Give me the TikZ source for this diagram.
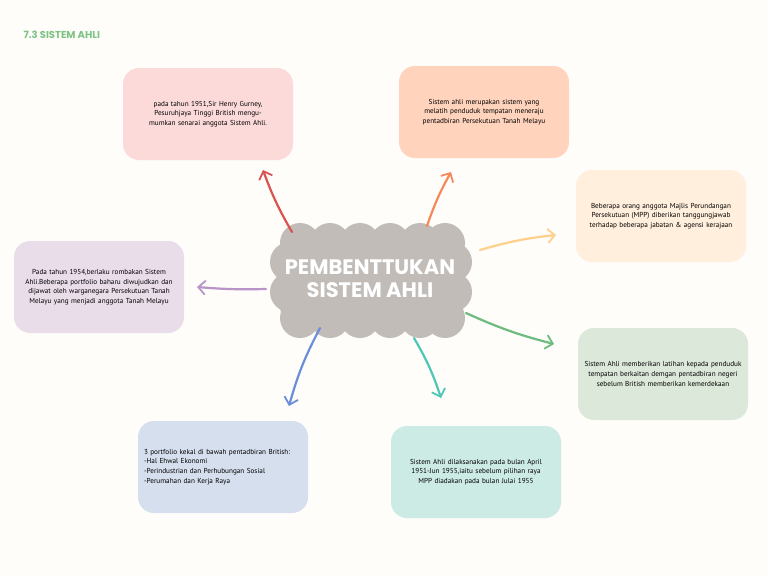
\documentclass[tikz,border=0pt]{standalone}
\usepackage{fontspec}
\setmainfont{PT Sans}
\newfontfamily\headfont{Poppins}
\usetikzlibrary{arrows.meta}
\definecolor{bg}{HTML}{FEFDFA}
\definecolor{cl}{HTML}{C1BCB8}
\begin{document}
\begin{tikzpicture}[x=1pt,y=-1pt,
  box/.style={rounded corners=16pt,minimum width=170pt,minimum height=92pt,text width=158pt,align=center,font=\fontsize{7.2}{9.6}\selectfont,inner sep=4pt},
  arr/.style={line width=2.2pt,line cap=round,-{Straight Barb[length=7pt,width=14pt,line width=1.8pt]}}]
\fill[bg] (0,0) rectangle (768,576);
\node[font=\headfont\bfseries\fontsize{10}{12}\selectfont,text=green!50!gray!80!teal,anchor=west,text={rgb,255:red,125;green,195;blue,131}] (title) at (20,35) {7.3 SISTEM AHLI};
\node[box,fill={rgb,255:red,253;green,218;blue,218}] (b1) at (208,114) {pada tahun 1951,Sir Henry Gurney, Pesuruhjaya Tinggi British mengumumkan senarai anggota Sistem Ahli.};
\node[box,fill={rgb,255:red,255;green,211;blue,188}] (b2) at (484,112) {Sistem ahli merupakan sistem yang melatih penduduk tempatan meneraju pentadbiran Persekutuan Tanah Melayu};
\node[box,fill={rgb,255:red,255;green,239;blue,220}] (b3) at (661,216) {Beberapa orang anggota Majlis Perundangan Persekutuan (MPP) diberikan tanggungjawab terhadap beberapa jabatan \& agensi kerajaan};
\node[box,fill={rgb,255:red,234;green,221;blue,234}] (b4) at (99,287) {Pada tahun 1954,berlaku rombakan Sistem Ahli.Beberapa portfolio baharu diwujudkan dan dijawat oleh warganegara Persekutuan Tanah Melayu yang menjadi anggota Tanah Melayu};
\node[box,fill={rgb,255:red,220;green,232;blue,217}] (b5) at (663,374) {Sistem Ahli memberikan latihan kepada penduduk tempatan berkaitan demgan pentadbiran negeri sebelum British memberikan kemerdekaan};
\node[box,fill={rgb,255:red,213;green,223;blue,238},align=left] (b6) at (223,467) {3 portfolio kekal di bawah pentadbiran British:\\-Hal Ehwal Ekonomi\\-Perindustrian dan Perhubungan Sosial\\-Perumahan dan Kerja Raya};
\node[box,fill={rgb,255:red,205;green,235;blue,229}] (b7) at (476,472) {Sistem Ahli dilaksanakan pada bulan April 1951-Jun 1955,iaitu sebelum pilihan raya MPP diadakan pada bulan Julai 1955};
% cloud
\begin{scope}
\fill[cl,rounded corners=20pt] (280,236) rectangle (462,326);
\foreach \x in {300,330,360,390,420,445} {\fill[cl] (\x,243) circle (20); \fill[cl] (\x,318) circle (20);}
\foreach \y in {262,292} {\fill[cl] (290,\y) circle (20); \fill[cl] (452,\y) circle (20);}
\end{scope}
\node[font=\headfont\bfseries\fontsize{21}{23}\selectfont,text=white,align=center] (c) at (370,279) {PEMBENTTUKAN\\SISTEM AHLI};
\coordinate (s1) at (292,232); \coordinate (e1) at (263,170);
\coordinate (s2) at (427,226); \coordinate (e2) at (451,172);
\coordinate (s3) at (480,250); \coordinate (e3) at (556,235);
\coordinate (s4) at (266,289); \coordinate (e4) at (197,287);
\coordinate (s5) at (466,313); \coordinate (e5) at (554,344);
\coordinate (s6) at (320,328); \coordinate (e6) at (289,406);
\coordinate (s7) at (414,338); \coordinate (e7) at (441,398);
\draw[arr,draw={rgb,255:red,217;green,83;blue,79}] (s1) to[bend left=5] (e1);
\draw[arr,draw={rgb,255:red,246;green,136;blue,90}] (s2) to[bend left=5] (e2);
\draw[arr,draw={rgb,255:red,255;green,208;blue,138}] (s3) to[bend left=5] (e3);
\draw[arr,draw={rgb,255:red,185;green,148;blue,201}] (s4) to[bend left=3] (e4);
\draw[arr,draw={rgb,255:red,109;green,187;blue,127}] (s5) to[bend right=5] (e5);
\draw[arr,draw={rgb,255:red,106;green,143;blue,216}] (s6) to[bend right=6] (e6);
\draw[arr,draw={rgb,255:red,78;green,199;blue,181}] (s7) to[bend left=6] (e7);
\useasboundingbox (0,0) rectangle (768,576);
\end{tikzpicture}
\end{document}
